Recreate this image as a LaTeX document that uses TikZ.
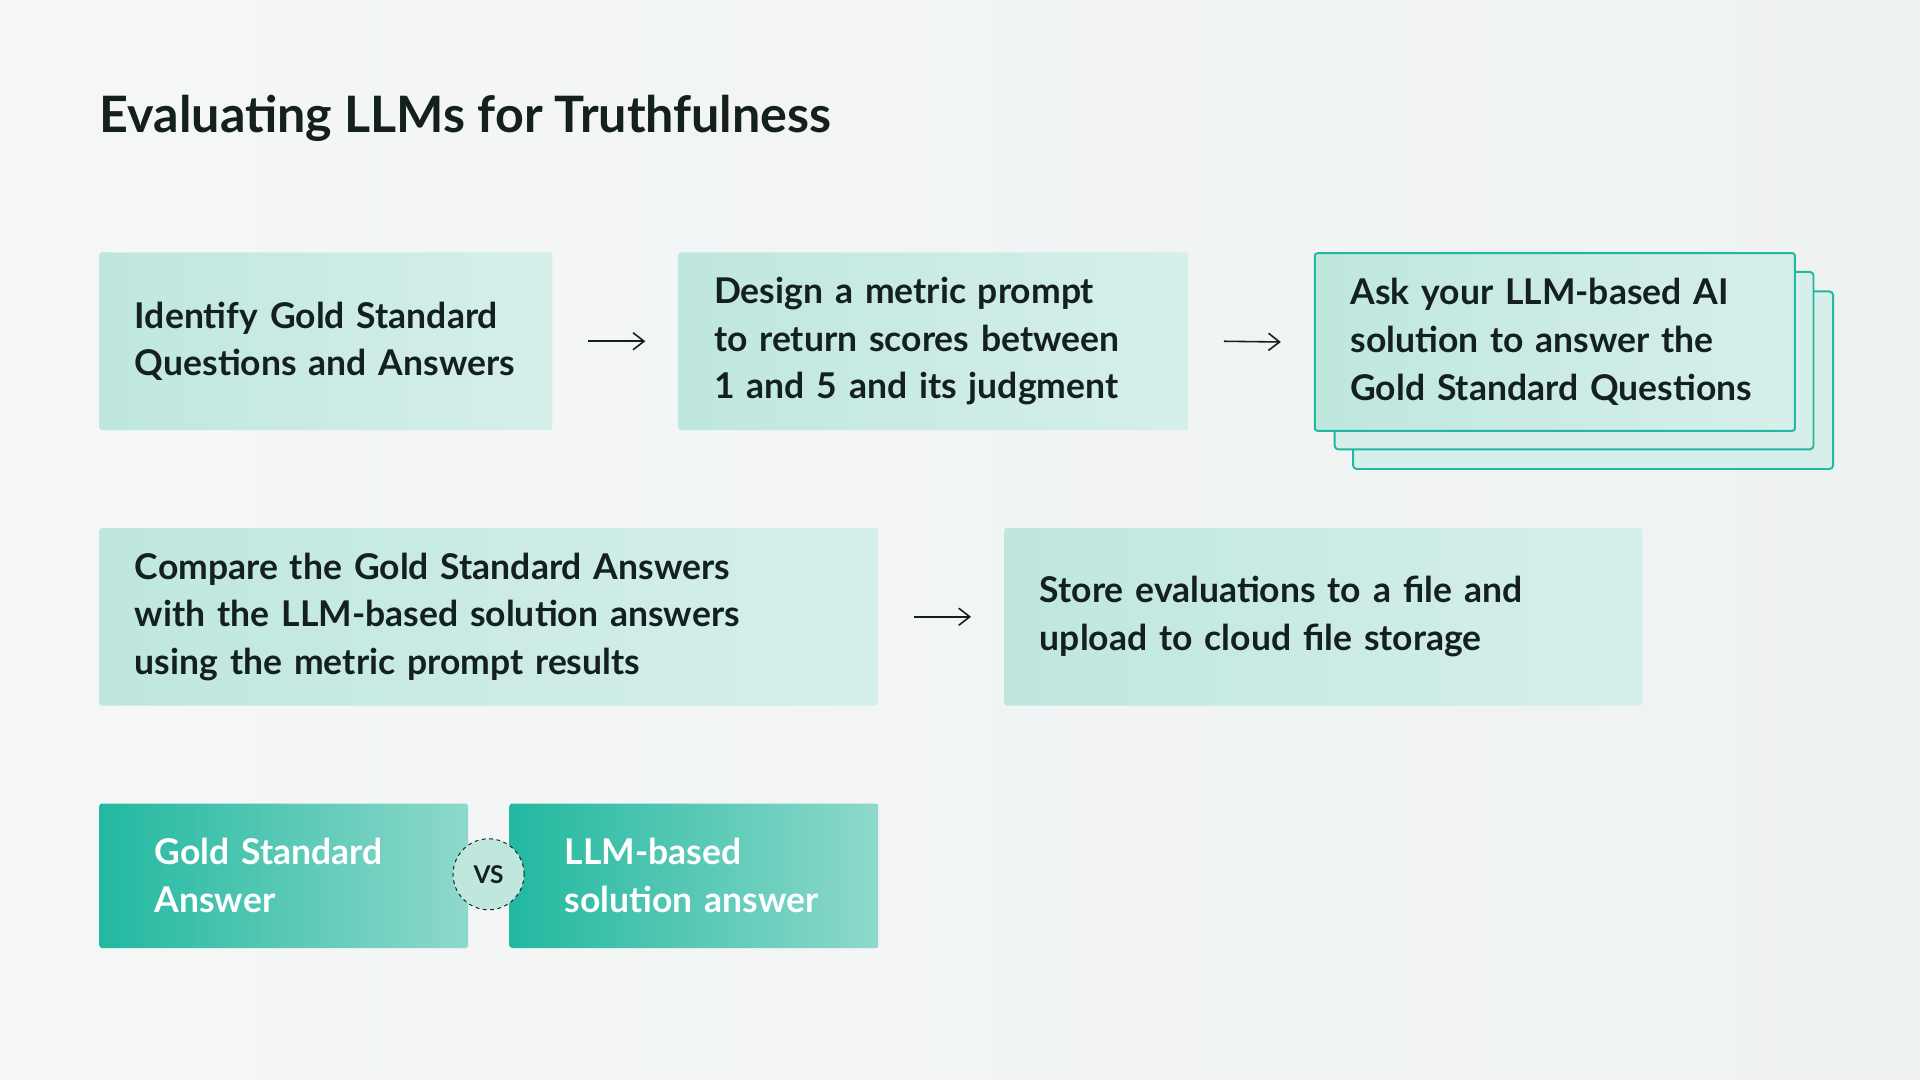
\documentclass[tikz,border=0pt]{standalone}
\usepackage{fontspec}
\setmainfont{Lato}
\usetikzlibrary{positioning,arrows.meta}
\definecolor{bgcol}{HTML}{EEF2F1}
\definecolor{boxcol}{HTML}{BFE7DE}
\definecolor{boxlite}{HTML}{D6EFEA}
\definecolor{tealdark}{HTML}{22B8A0}
\definecolor{teallite}{HTML}{8ED9CB}
\definecolor{inkcol}{HTML}{14201E}
\tikzset{
  stepbox/.style={anchor=north west, left color=boxcol, right color=boxlite,
    rounded corners=2pt, align=left, text=inkcol, inner xsep=29pt, inner ysep=0pt,
    font=\fontsize{29}{39}\selectfont\bfseries},
  cardbox/.style={draw=tealdark, line width=1.6pt, fill=boxlite, rounded corners=3pt},
  answerbox/.style={anchor=north west, left color=tealdark, right color=teallite,
    rounded corners=2pt, align=left, text=white, inner xsep=45pt, inner ysep=0pt,
    font=\fontsize{29}{39}\selectfont\bfseries},
  flow/.style={-{Straight Barb[length=9pt, width=14pt, line width=1.3pt]}, line width=1.3pt, draw=inkcol}
}
\begin{document}
\begin{tikzpicture}[x=1pt, y=-1pt]
    % background
    \fill[left color=bgcol!60!white, right color=bgcol] (0,0) rectangle (1568,882);
    \useasboundingbox (0,0) rectangle (1568,882);

    % title
    \node[anchor=west, font=\fontsize{41}{48}\selectfont\bfseries, text=inkcol]
        (title) at (78,97) {Evaluating LLMs for Truthfulness};

    % first row
    \node[stepbox, minimum width=370, minimum height=145, text width=312] (identify) at (81,206)
        {Identify Gold Standard\\Questions and Answers};
    \node[stepbox, minimum width=416, minimum height=145, text width=358] (design) at (554,206)
        {Design a metric prompt\\to return scores between\\1 and 5 and its judgment};

    % stacked cards behind the third step
    \draw[cardbox] (1105,238) rectangle (1497,383);
    \draw[cardbox] (1090,222) rectangle (1481,367);
    \node[stepbox, draw=tealdark, line width=1.6pt, fill=boxlite, minimum width=392, minimum height=145,
        text width=334] (ask) at (1073,206)
        {Ask your LLM-based AI\\solution to answer the\\Gold Standard Questions};

    % second row
    \node[stepbox, minimum width=636, minimum height=145, text width=578] (compare) at (81,431)
        {Compare the Gold Standard Answers\\with the LLM-based solution answers\\using the metric prompt results};
    \node[stepbox, minimum width=521, minimum height=145, text width=463] (store) at (820,431)
        {Store evaluations to a file and\\upload to cloud file storage};

    % arrows
    \draw[flow] ([xshift=29pt]identify.east) -- ([xshift=-27pt]design.west);
    \draw[flow] ([xshift=29pt]design.east) -- ([xshift=-27pt]ask.west);
    \draw[flow] ([xshift=29pt]compare.east) -- ([xshift=-27pt]store.west);

    % answers
    \node[answerbox, minimum width=301, minimum height=118, text width=211] (gold) at (81,656)
        {Gold Standard\\Answer};
    \node[answerbox, minimum width=301, minimum height=118, text width=211] (llm) at (416,656)
        {LLM-based\\solution answer};
    \node[circle, minimum size=58, fill=boxcol, draw=inkcol, dashed, line width=0.8pt,
        text=inkcol, font=\fontsize{20}{24}\selectfont\bfseries, inner sep=0pt] (vs) at (399,714) {VS};
\end{tikzpicture}
\end{document}
